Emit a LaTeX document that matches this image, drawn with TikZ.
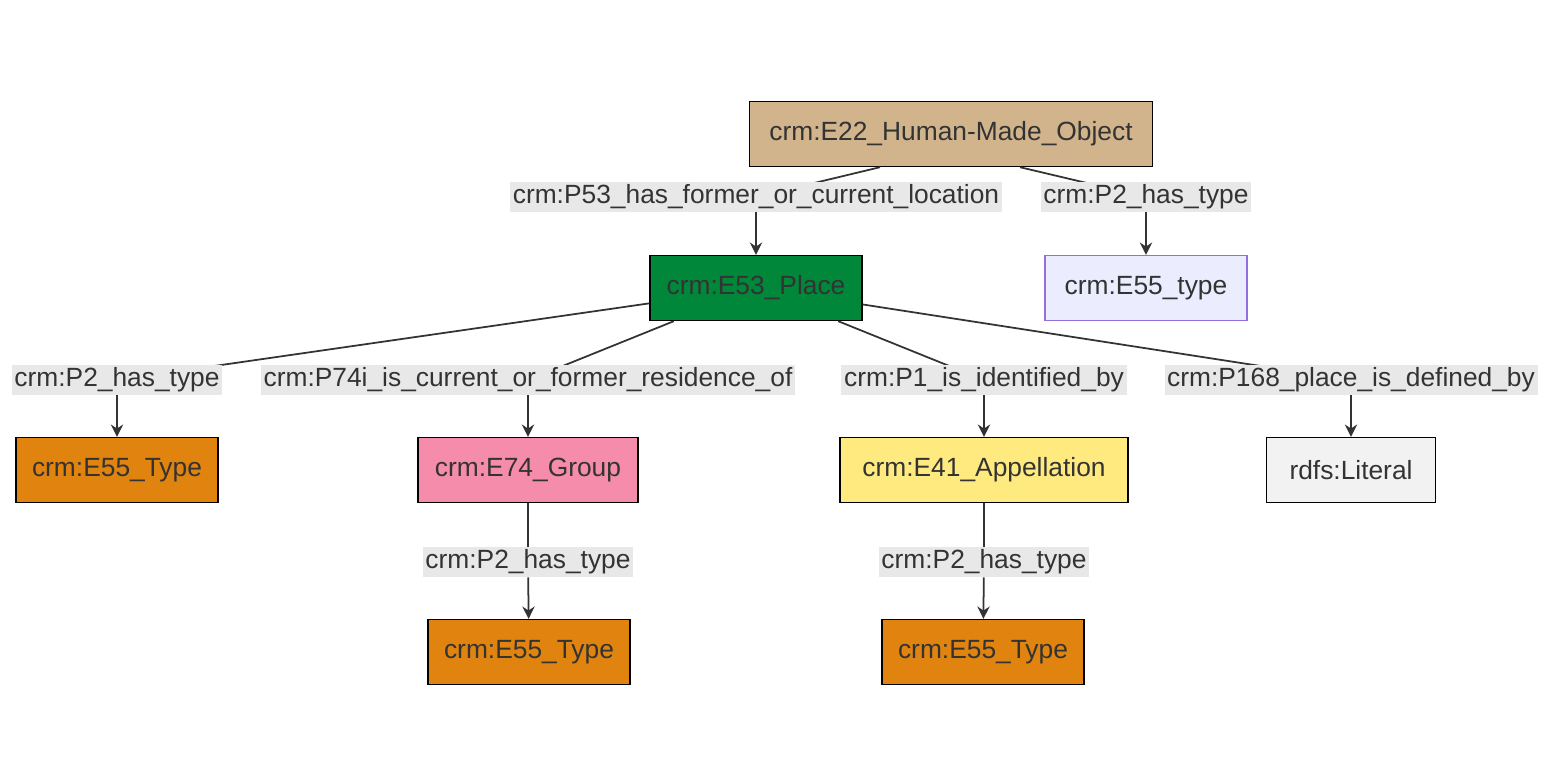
\documentclass[tikz,border=0pt]{standalone}
\usepackage{fontspec}
\setmainfont{Liberation Sans}
\usetikzlibrary{arrows.meta}
\definecolor{ink}{HTML}{333333}
\definecolor{edgelbl}{HTML}{E8E8E8}
\definecolor{tan}{HTML}{D2B48C}
\definecolor{place}{HTML}{00873A}
\definecolor{ltype}{HTML}{ECECFF}
\definecolor{ltypeb}{HTML}{9370DB}
\definecolor{otype}{HTML}{E0830F}
\definecolor{group}{HTML}{F58CAB}
\definecolor{appel}{HTML}{FFEA80}
\definecolor{literal}{HTML}{F2F2F2}
\tikzset{
  box/.style={draw=black, line width=0.8pt, minimum height=1.3cm, text=ink, font=\fontsize{15}{18}\selectfont},
  lbl/.style={fill=edgelbl, text=ink, inner sep=1.5pt, font=\fontsize{15}{18}\selectfont},
  link/.style={draw=ink, line width=1pt},
  arr/.style={link, -{Stealth[length=7pt,width=7pt]}}
}
\begin{document}
\begin{tikzpicture}[x=0.02cm, y=-0.02cm]
      \useasboundingbox (0,0) rectangle (1568,758);

      \node[box, fill=tan, minimum width=8.06cm] (e22) at (951,134) {crm:E22\_Human-Made\_Object};
      \node[box, fill=place, minimum width=4.24cm] (e53) at (756,288) {crm:E53\_Place};
      \node[box, fill=ltype, draw=ltypeb, minimum width=4.04cm] (e55a) at (1146,288) {crm:E55\_type};
      \node[box, fill=otype, minimum width=4.04cm] (e55b) at (117,470) {crm:E55\_Type};
      \node[box, fill=group, minimum width=4.4cm] (e74) at (528,470) {crm:E74\_Group};
      \node[box, fill=appel, minimum width=5.76cm] (e41) at (984,470) {crm:E41\_Appellation};
      \node[box, fill=literal, minimum width=3.38cm] (lit) at (1351,470) {rdfs:Literal};
      \node[box, fill=otype, minimum width=4.04cm] (e55c) at (529,652) {crm:E55\_Type};
      \node[box, fill=otype, minimum width=4.04cm] (e55d) at (983,652) {crm:E55\_Type};

      \draw[link] (e22.south -| 880,0) -- (756,197);
      \draw[link] (e22.south -| 1020,0) -- (1146,197);
      \draw[link] (e53) -- (117,380);
      \draw[link] (e53) -- (528,380);
      \draw[link] (e53) -- (984,380);
      \draw[link] (e53) -- (1351,380);

      \node[lbl] (l1) at (756,197) {crm:P53\_has\_former\_or\_current\_location};
      \node[lbl] (l2) at (1146,197) {crm:P2\_has\_type};
      \node[lbl] (l3) at (117,380) {crm:P2\_has\_type};
      \node[lbl] (l4) at (528,380) {crm:P74i\_is\_current\_or\_former\_residence\_of};
      \node[lbl] (l5) at (984,380) {crm:P1\_is\_identified\_by};
      \node[lbl] (l6) at (1351,380) {crm:P168\_place\_is\_defined\_by};
      \node[lbl] (l7) at (528,562) {crm:P2\_has\_type};
      \node[lbl] (l8) at (984,562) {crm:P2\_has\_type};

      \draw[arr] (l1) -- (e53);
      \draw[arr] (l2) -- (e55a);
      \draw[arr] (l3) -- (e55b);
      \draw[arr] (l4) -- (e74);
      \draw[arr] (l5) -- (e41);
      \draw[arr] (l6) -- (lit);
      \draw[link] (e74) -- (l7);
      \draw[arr] (l7) -- (e55c);
      \draw[link] (e41) -- (l8);
      \draw[arr] (l8) -- (e55d);
    \end{tikzpicture}
\end{document}
